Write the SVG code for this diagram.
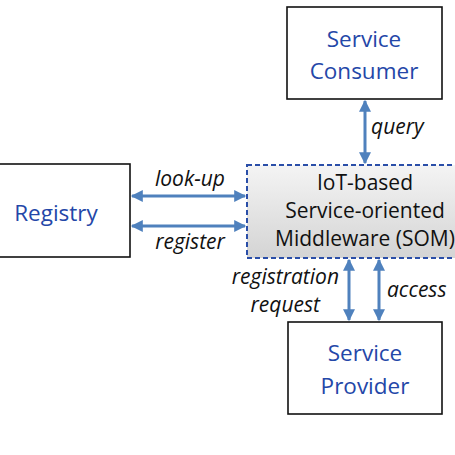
<svg xmlns="http://www.w3.org/2000/svg" width="455" height="455" viewBox="0 0 455 455">
<style>
.box{fill:#fff;stroke:#111;stroke-width:1.6}
.nt{font-family:"Open Sans","Liberation Sans",sans-serif;font-size:22.5px;fill:#2447a8;text-anchor:middle}
.st{font-family:"Open Sans","Liberation Sans",sans-serif;font-size:21px;fill:#111;text-anchor:middle}
.lb{font-family:"Open Sans","Liberation Sans",sans-serif;font-size:21px;font-style:italic;fill:#111}
.ar{stroke:#4f81bd;stroke-width:3;fill:none;marker-start:url(#ah);marker-end:url(#ah)}
</style>
<defs>
<linearGradient id="g" x1="0" y1="0" x2="0" y2="1">
<stop offset="0" stop-color="#f4f4f4"/>
<stop offset="1" stop-color="#d4d4d4"/>
</linearGradient>
<marker id="ah" viewBox="0 0 10 10" refX="9" refY="5" markerWidth="4.5" markerHeight="4" orient="auto-start-reverse" markerUnits="strokeWidth">
<path d="M0,0 L10,5 L0,10 z" fill="#4f81bd"/>
</marker>
</defs>
<g id="connectors">
<line class="ar" x1="365" y1="101" x2="365" y2="163"/>
<line class="ar" x1="132" y1="196" x2="245" y2="196"/>
<line class="ar" x1="132" y1="226" x2="245" y2="226"/>
<line class="ar" x1="349" y1="260" x2="349" y2="320"/>
<line class="ar" x1="379" y1="260" x2="379" y2="320"/>
<text class="lb" x="371" y="134">query</text>
<text class="lb" x="190" y="186" text-anchor="middle">look-up</text>
<text class="lb" x="190" y="249" text-anchor="middle">register</text>
<text class="lb" x="339" y="284" text-anchor="end">registration</text>
<text class="lb" x="320" y="312" text-anchor="end">request</text>
<text class="lb" x="387" y="297">access</text>
</g>
<g id="consumer">
<rect class="box" x="287" y="7" width="155" height="92"/>
<text class="nt" x="364" y="47">Service</text>
<text class="nt" x="364" y="79">Consumer</text>
</g>
<g id="registry">
<rect class="box" x="-1" y="164" width="131" height="93"/>
<text class="nt" x="56" y="221">Registry</text>
</g>
<g id="som">
<rect x="247" y="165" width="220" height="93" fill="url(#g)" stroke="#2a4ea8" stroke-width="2" stroke-dasharray="5,3"/>
<text class="st" x="365" y="190">IoT-based</text>
<text class="st" x="365" y="218">Service-oriented</text>
<text class="st" x="365" y="246">Middleware (SOM)</text>
</g>
<g id="provider">
<rect class="box" x="288" y="322" width="154" height="92"/>
<text class="nt" x="365" y="361">Service</text>
<text class="nt" x="365" y="394">Provider</text>
</g>
</svg>
